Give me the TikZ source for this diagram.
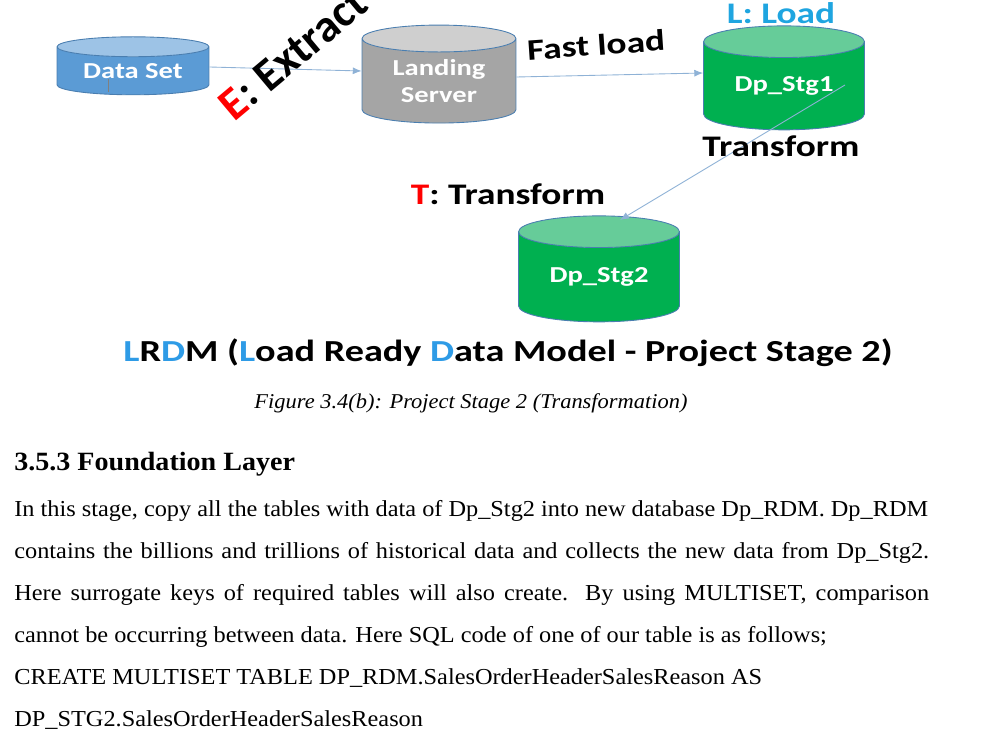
\documentclass[tikz,border=0pt]{standalone}
\usepackage{fontspec}
\setmainfont[FakeStretch=1.065]{Liberation Serif}
\newfontfamily\carlito[FakeStretch=1.25]{Carlito}
\newfontfamily\carlitoplain{Carlito}
\usetikzlibrary{shapes.geometric}
\usetikzlibrary{arrows.meta}

\definecolor{setblue}{HTML}{5B9BD5}
\definecolor{settop}{HTML}{9DC3E6}
\definecolor{servgray}{HTML}{A5A5A5}
\definecolor{servtop}{HTML}{CFCFCF}
\definecolor{stggreen}{HTML}{00B050}
\definecolor{stgtop}{HTML}{66CC99}
\definecolor{rimblue}{HTML}{4A7EB0}
\definecolor{linkblue}{HTML}{8FB2D6}
\definecolor{loadblue}{HTML}{1FA5E0}
\definecolor{ldmblue}{HTML}{2E9BE6}

\tikzset{
    dbase/.style={cylinder,shape border rotate=90,draw=rimblue,line width=0.5pt,cylinder uses custom fill,
        text=white,inner sep=0pt,font=\carlito\bfseries\fontsize{13}{17}\selectfont,align=center},
    link/.style={draw=linkblue,line width=0.5pt,-{Latex[length=5pt,width=4pt]}},
    heading/.style={font=\carlito\bfseries\fontsize{17}{20}\selectfont,inner sep=0pt},
    bodyline/.style={anchor=base west,inner sep=0pt,font=\fontsize{13}{16}\selectfont}
}

\begin{document}
\begin{tikzpicture}[x=0.02cm,y=-0.02cm]
        \useasboundingbox (0,0) rectangle (1000,750);

        % databases
        \node[dbase,minimum width=3.04cm,minimum height=1.16cm,aspect=0.2,cylinder end fill=settop,cylinder body fill=setblue] (dataset) at (133,71) {Data Set};
        \node[dbase,minimum width=3.08cm,minimum height=1.96cm,aspect=0.29,cylinder end fill=servtop,cylinder body fill=servgray] (landing) at (439,81) {\raisebox{-0.05cm}{Landing}\\Server};
        \node[dbase,minimum width=3.22cm,minimum height=2.08cm,aspect=0.32,cylinder end fill=stgtop,cylinder body fill=stggreen] (stg1) at (784,86) {\raisebox{0.07cm}{Dp\_Stg1}};
        \node[dbase,minimum width=3.22cm,minimum height=2.12cm,aspect=0.32,cylinder end fill=stgtop,cylinder body fill=stggreen] (stg2) at (599,277) {Dp\_Stg2};

        % free ends
        \coordinate (stgout) at (845,85);
        \coordinate (stgin) at (620,220);
        \coordinate (tickup) at (108,79);
        \coordinate (ticklow) at (108,92);

        % links
        \draw[link] ([yshift=0.08cm]dataset.east) -- ([yshift=0.2cm]landing.west);
        \draw[link] ([yshift=0.08cm]landing.east) -- ([yshift=0.26cm]stg1.west);
        \draw[link] (stgout) -- (stgin);
        \draw[gray,line width=0.4pt] (tickup) -- (ticklow);

        % labels
        \node[heading,rotate=40,font=\carlitoplain\bfseries\fontsize{26}{30}\selectfont] (extract) at (293,54) {\textcolor{red}{E}: Extract};
        \node[heading,rotate=4] (fastload) at (596,45) {Fast load};
        \node[heading,text=loadblue] (load) at (781,13) {L: Load};
        \node[heading] (transform) at (781,146) {Transform};
        \node[heading] (ttransform) at (508,194) {\textcolor{red}{T}: Transform};
        \node[heading,font=\carlito\bfseries\fontsize{17.4}{22}\selectfont] (lrdm) at (508,353) {\textcolor{ldmblue}{L}R\textcolor{ldmblue}{D}M (\textcolor{ldmblue}{L}oad Ready \textcolor{ldmblue}{D}ata Model - Project Stage 2)};

        % caption
        \node[inner sep=0pt,font=\itshape\fontsize{12}{14}\selectfont] (caption) at (471,403) {Figure 3.4(b): Project Stage 2 (Transformation)};

        % section text
        \node[bodyline,font=\bfseries\fontsize{15}{18}\selectfont] (section) at (14,470) {3.5.3 Foundation Layer};
        \node[bodyline] (lineone) at (14,516) {\makebox[18.28cm][s]{In this stage, copy all the tables with data of Dp\_Stg2 into new database Dp\_RDM. Dp\_RDM}};
        \node[bodyline] (linetwo) at (14,558) {\makebox[18.3cm][s]{contains the billions and trillions of historical data and collects the new data from Dp\_Stg2.}};
        \node[bodyline] (linethree) at (14,600) {\makebox[18.3cm][s]{Here surrogate keys of required tables will also create. By using MULTISET, comparison}};
        \node[bodyline] (linefour) at (14,642) {cannot be occurring between data. Here SQL code of one of our table is as follows;};
        \node[bodyline] (linefive) at (14,684) {CREATE MULTISET TABLE DP\_RDM.SalesOrderHeaderSalesReason AS};
        \node[bodyline] (linesix) at (14,726) {DP\_STG2.SalesOrderHeaderSalesReason};
    \end{tikzpicture}
\end{document}
